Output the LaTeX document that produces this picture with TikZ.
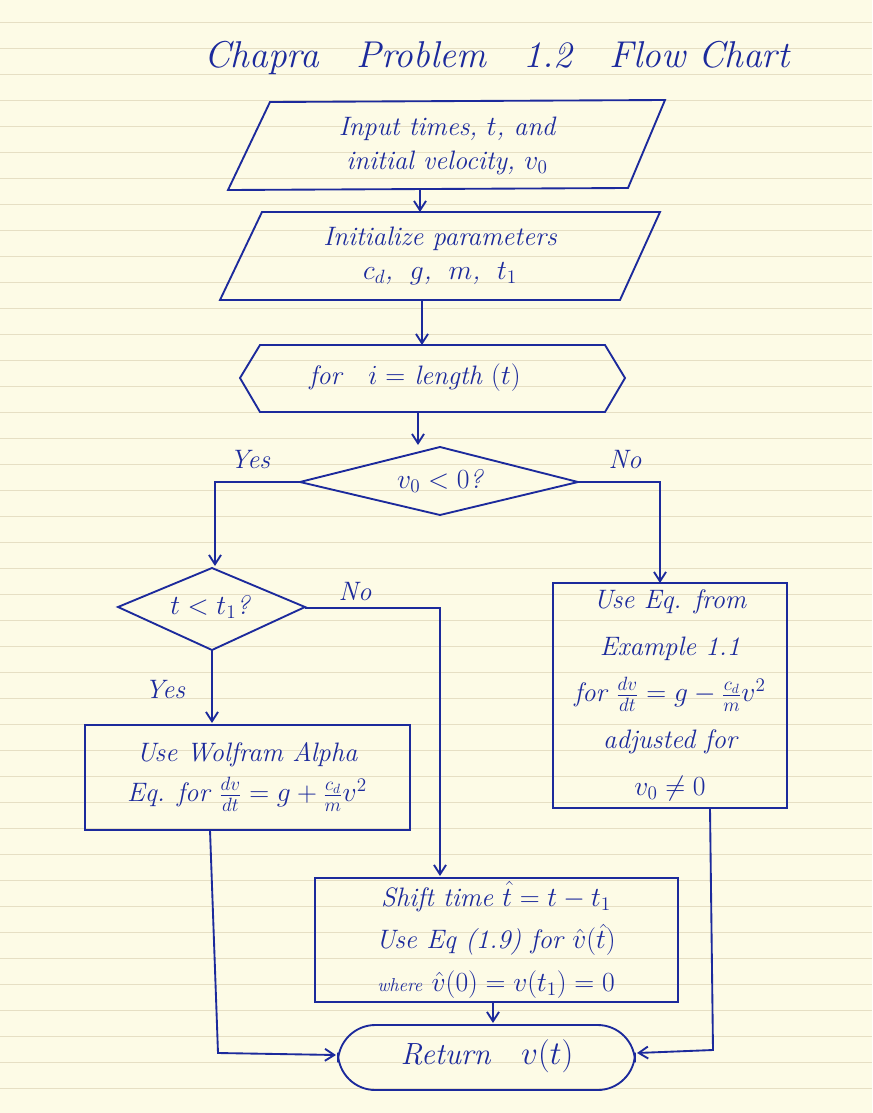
\documentclass[tikz,border=0pt]{standalone}
\usetikzlibrary{arrows.meta,shapes.geometric}
\definecolor{paper}{HTML}{FDFBE6}
\definecolor{rule}{HTML}{E6DFC4}
\definecolor{ink}{HTML}{1C2A9C}
\begin{document}
\begin{tikzpicture}[x=0.75pt,y=-0.75pt,
  ink/.style={draw=ink,line width=1.4pt},
  lbl/.style={text=ink,font=\fontsize{20}{25}\selectfont\itshape,align=center},
  arr/.style={ink,-{Straight Barb[length=7pt,width=9pt]}}]
\useasboundingbox (0,0) rectangle (872,1113);
\fill[paper] (0,0) rectangle (872,1113);
\foreach \y in {22,48,...,1110} \draw[rule,line width=0.6pt] (0,\y) -- (872,\y);
\node[text=ink,font=\fontsize{28}{32}\selectfont\itshape] (title) at (497,58) {Chapra\quad Problem\quad 1.2\quad Flow Chart};
% parallelograms
\draw[ink] (270,102) -- (665,100) -- (628,188) -- (228,190) -- cycle;
\node[lbl] (in) at (447,146) {Input times, $t$, and\\ initial velocity, $v_0$};
\draw[ink] (262,212) -- (660,212) -- (620,300) -- (220,300) -- cycle;
\node[lbl] (init) at (440,256) {Initialize parameters\\ $c_d$,\; $g$,\; $m$,\; $t_1$};
% hexagon
\draw[ink] (240,378) -- (260,345) -- (605,345) -- (625,378) -- (605,412) -- (260,412) -- cycle;
\node[lbl] (for) at (415,378) {for\quad $i=$ length $(t)$};
% diamond 1
\draw[ink] (300,482) -- (440,447) -- (578,482) -- (440,515) -- cycle;
\node[lbl] (d1) at (440,481) {$v_0 < 0$?};
\node[lbl] (yes1) at (250,460) {Yes};
\node[lbl] (no1) at (625,460) {No};
% diamond 2
\draw[ink] (118,607) -- (212,568) -- (305,607) -- (212,650) -- cycle;
\node[lbl] (d2) at (210,607) {$t < t_1$?};
\node[lbl] (no2) at (355,592) {No};
\node[lbl] (yes2) at (165,690) {Yes};
% boxes
\draw[ink] (85,725) rectangle (410,830);
\node[lbl,font=\fontsize{20}{30}\selectfont\itshape] (wa) at (247,777) {Use Wolfram Alpha\\ Eq. for $\frac{dv}{dt}=g+\frac{c_d}{m}v^2$};
\draw[ink] (553,583) rectangle (787,808);
\node[lbl,font=\fontsize{20}{35}\selectfont\itshape] (ex) at (670,695) {Use Eq. from\\ Example 1.1\\ for $\frac{dv}{dt}=g-\frac{c_d}{m}v^2$\\ adjusted for\\ $v_0\neq 0$};
\draw[ink] (315,878) rectangle (678,1002);
\node[lbl,font=\fontsize{20}{32}\selectfont\itshape] (sh) at (496,940) {Shift time $\hat t = t - t_1$\\ Use Eq (1.9) for $\hat v(\hat t)$\\ {\fontsize{14}{32}\selectfont where} $\hat v(0)=v(t_1)=0$};
\draw[ink,rounded corners=28pt] (338,1025) rectangle (635,1090);
\node[lbl,font=\fontsize{23}{27}\selectfont\itshape] (ret) at (487,1056) {Return\quad $v(t)$};
% connectors
\draw[arr] (420,190) -- (420,212);
\draw[arr] (422,300) -- (422,345);
\draw[arr] (418,412) -- (418,445);
\draw[arr] (300,482) -- (215,482) -- (215,566);
\draw[arr] (578,482) -- (660,482) -- (660,583);
\draw[arr] (305,608) -- (440,608) -- (440,876);
\draw[arr] (212,650) -- (212,723);
\draw[arr] (210,830) -- (218,1053) -- (336,1055);
\draw[arr] (710,808) -- (713,1050) -- (637,1053);
\draw[arr] (493,1002) -- (493,1023);
\end{tikzpicture}
\end{document}
